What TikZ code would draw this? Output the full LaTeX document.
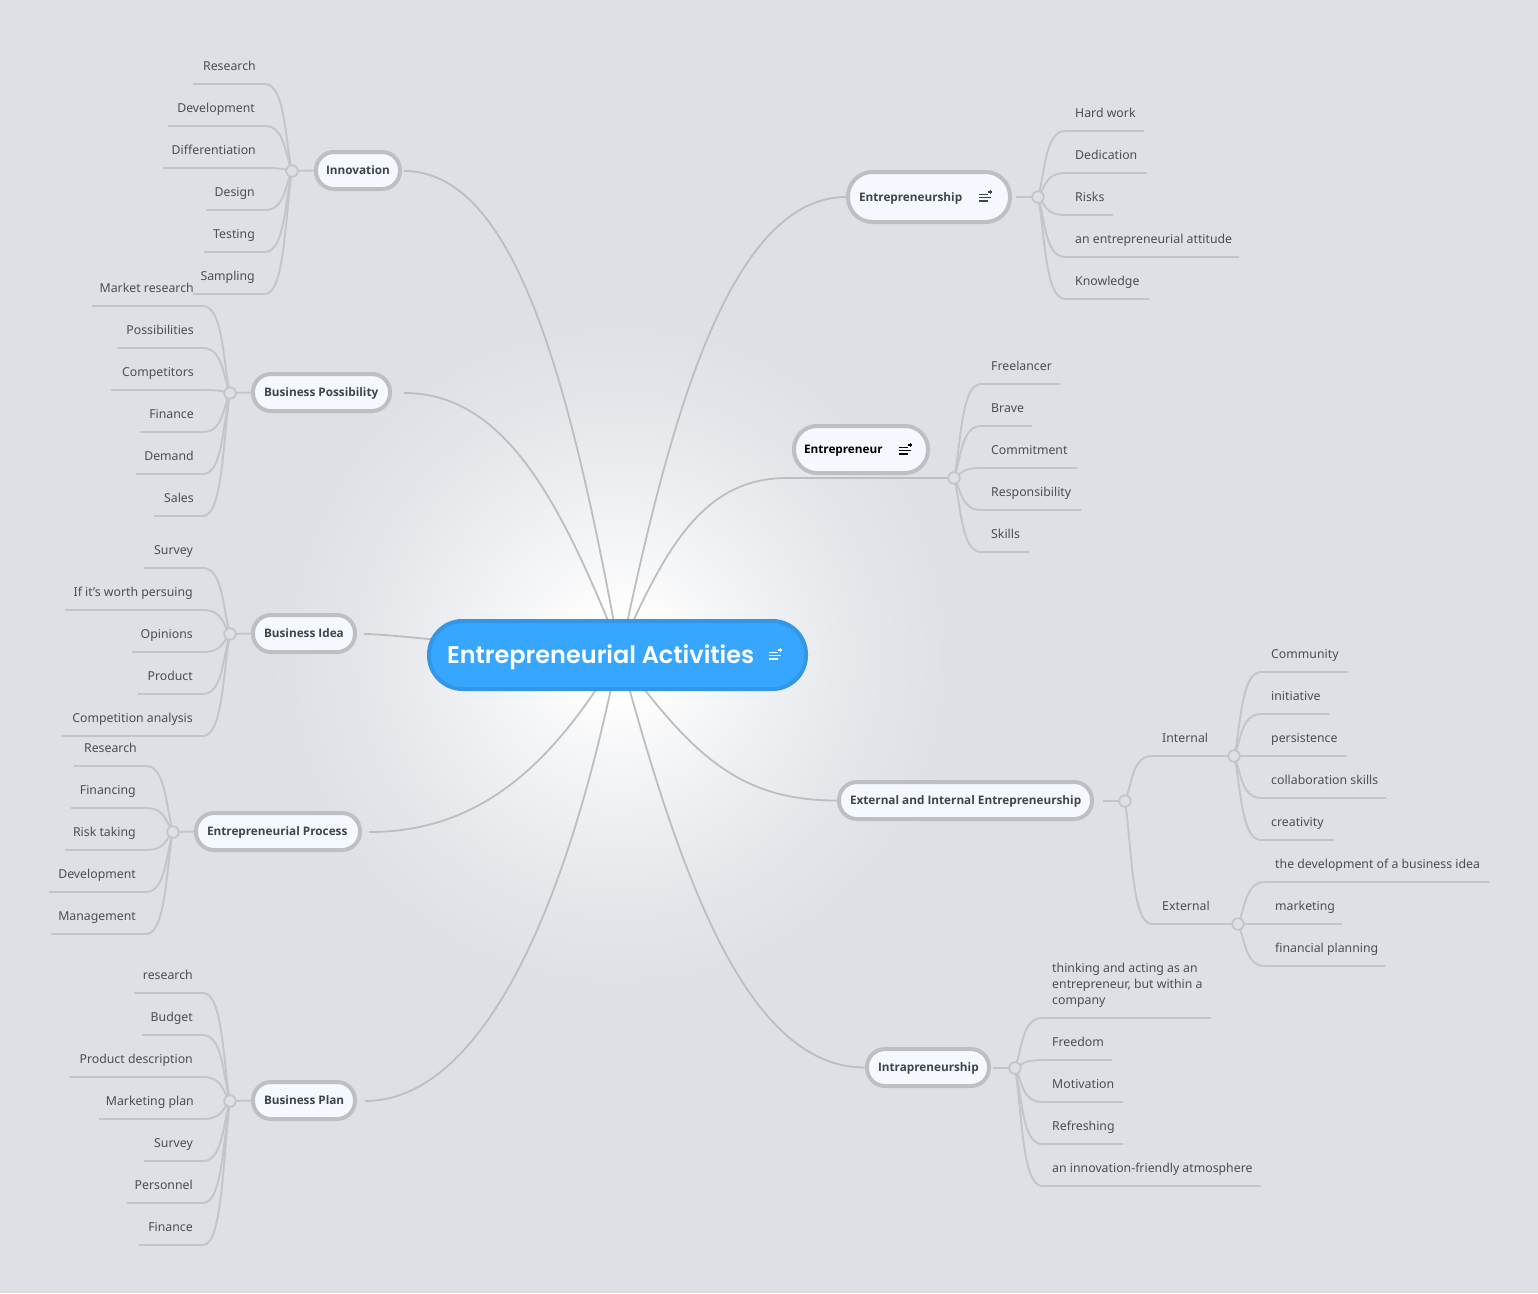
\documentclass[tikz,border=0pt]{standalone}
\usepackage{fontspec}
\setmainfont{Noto Sans}
\newfontfamily\titlefont{Poppins SemiBold}
\newfontfamily\boldfont{Open Sans}[BoldFont={Open Sans Bold}]
\definecolor{bgc}{HTML}{DDE0E5}
\definecolor{linec}{HTML}{C3C5C7}
\definecolor{edgec}{HTML}{BCBEC0}
\definecolor{txtc}{HTML}{4A4D52}
\definecolor{boldc}{HTML}{3F434A}
\definecolor{bluef}{HTML}{36A6FF}
\definecolor{blueb}{HTML}{3497E6}
\definecolor{boxf}{HTML}{F5F9FF}
\definecolor{boxb}{HTML}{BDBFC1}
\pgfdeclareradialshading{glow}{\pgfpointorigin}{
 color(0bp)=(white);
 color(3bp)=(white);
 color(5.7bp)=(white!79!bgc);
 color(11.6bp)=(white!47!bgc);
 color(17.5bp)=(white!18!bgc);
 color(22bp)=(white!4!bgc);
 color(24bp)=(bgc);
 color(50bp)=(bgc)}
\tikzset{
 x=1pt,y=-1pt,
 leaftxt/.style={inner sep=0pt,text=txtc,font=\fontsize{12.3}{16}\selectfont},
 branch/.style={draw=linec,line width=1.9pt},
 mainedge/.style={draw=edgec,line width=1.8pt},
 hubdot/.style={circle,draw=linec,fill=bgc,line width=1.8pt,minimum size=11.5pt,inner sep=0pt},
 topicbox/.style={draw=boxb,fill=boxf,line width=4pt,inner sep=0pt,anchor=center,
   text=boldc,font=\fontsize{11.75}{16}\boldfont\bfseries,text height=10pt,text depth=1.5pt},
 rootbox/.style={draw=blueb,fill=bluef,line width=4pt,inner sep=0pt,anchor=center,
   text=white,font=\fontsize{24}{28}\titlefont,text height=19pt,text depth=2pt}
}
% \tbox{style}{name}{x1}{x2}{y1}{y2}{pad}{text}
\newcommand\tbox[8]{%
 \pgfmathsetmacro\bw{#4-#3-4}\pgfmathsetmacro\bh{#6-#5-4}%
 \pgfmathsetmacro\bx{(#3+#4)/2}\pgfmathsetmacro\by{(#5+#6)/2}%
 \pgfmathsetmacro\bp{#7-2}\pgfmathsetmacro\br{(#6-#5-4)/2-0.5}%
 \node[#1,rounded corners=\br pt,minimum width=\bw pt,minimum height=\bh pt] (#2) at (\bx,\by)
  {\makebox[\bw pt][l]{\hspace{\bp pt}#8}};}
% \hub{name}{x}{y}
\newcommand\hub[3]{\coordinate (#1) at (#2,#3);\def\hx{#2}\def\hy{#3}\def\hn{#1}}
\newcounter{lf}
% \rleaf{textx}{endx}{ly}{text}
\newcommand\rleaf[4]{%
 \stepcounter{lf}%
 \pgfmathsetmacro\ca{\hx+7}\pgfmathsetmacro\cb{\hy+0.35*(#3-\hy)}%
 \pgfmathsetmacro\cc{\hx+7}\pgfmathsetmacro\cd{\hx+27}\pgfmathsetmacro\ty{#3-14}%
 \node[leaftxt,anchor=base west] (t\thelf) at (#1,\ty) {#4};
 \coordinate (e\thelf) at (#2,#3);
 \draw[branch] (\hn) .. controls (\ca,\cb) and (\cc,#3) .. (\cd,#3) -- (e\thelf);}
% \lleaf{textright}{endx}{ly}{text}
\newcommand\lleaf[4]{%
 \stepcounter{lf}%
 \pgfmathsetmacro\ca{\hx-7}\pgfmathsetmacro\cb{\hy+0.35*(#3-\hy)}%
 \pgfmathsetmacro\cc{\hx-7}\pgfmathsetmacro\cd{\hx-27}\pgfmathsetmacro\ty{#3-14}%
 \node[leaftxt,anchor=base east] (t\thelf) at (#1,\ty) {#4};
 \coordinate (e\thelf) at (#2,#3);
 \draw[branch] (\hn) .. controls (\ca,\cb) and (\cc,#3) .. (\cd,#3) -- (e\thelf);}
% \listicon{x}{y}{colour}: top-left at x,y
\newcommand\listicon[3]{%
 \begin{scope}[shift={(#1,#2)},draw=#3,line width=1.4pt]
  \draw (0,4.4) -- (9,4.4);
  \draw (0,7.6) -- (12,7.6);
  \draw (0,11) -- (9,11);
  \draw[line width=1.1pt] (9.4,2) -- (13.4,2) (11.4,0) -- (11.4,4);
 \end{scope}}
\begin{document}
\begin{tikzpicture}
\useasboundingbox (0,0) rectangle (1538,1293);
\fill[bgc] (0,0) rectangle (1538,1293);
\shade[shading=glow] (618,655) circle (370);

\coordinate (cc) at (618,655);
\coordinate (ccA) at (620,655);
\coordinate (ccB) at (622,655);
\coordinate (sInn) at (404,171);
\coordinate (sPos) at (404,393);
\coordinate (sIde) at (364,634);
\coordinate (sPro) at (369,832);
\coordinate (sPla) at (365,1101);

% hubs and leaves
\hub{hInn}{292}{171}
\lleaf{256}{193}{84}{Research}
\lleaf{255}{168}{126}{Development}
\lleaf{256}{163}{168}{Differentiation}
\lleaf{255}{206}{210}{Design}
\lleaf{255}{204}{252}{Testing}
\lleaf{255}{193}{294}{Sampling}

\hub{hPos}{230}{393}
\lleaf{194}{92}{306}{Market research}
\lleaf{194}{117}{348}{Possibilities}
\lleaf{194}{111}{390}{Competitors}
\lleaf{194}{140}{432}{Finance}
\lleaf{194}{136}{474}{Demand}
\lleaf{194}{154}{516}{Sales}

\hub{hIde}{230}{634}
\lleaf{193}{144}{568}{Survey}
\lleaf{193}{65}{610}{If it's worth persuing}
\lleaf{193}{132}{652}{Opinions}
\lleaf{193}{138}{694}{Product}
\lleaf{193}{62}{736}{Competition analysis}

\hub{hPro}{173}{832}
\lleaf{137}{74}{766}{Research}
\lleaf{136}{71}{808}{Financing}
\lleaf{136}{65}{850}{Risk taking}
\lleaf{136}{49}{892}{Development}
\lleaf{136}{51}{934}{Management}

\hub{hPla}{230}{1101}
\lleaf{193}{134}{993}{research}
\lleaf{193}{142}{1035}{Budget}
\lleaf{193}{69}{1077}{Product description}
\lleaf{194}{99}{1119}{Marketing plan}
\lleaf{193}{144}{1161}{Survey}
\lleaf{193}{127}{1203}{Personnel}
\lleaf{193}{139}{1245}{Finance}

\hub{hShip}{1038}{197}
\rleaf{1075}{1144}{131}{Hard work}
\rleaf{1075}{1147}{173}{Dedication}
\rleaf{1075}{1113}{215}{Risks}
\rleaf{1075}{1239}{257}{an entrepreneurial attitude}
\rleaf{1075}{1149}{299}{Knowledge}

\hub{hEnt}{954}{478}
\rleaf{991}{1060}{384}{Freelancer}
\rleaf{991}{1032}{426}{Brave}
\rleaf{991}{1077}{468}{Commitment}
\rleaf{991}{1081}{510}{Responsibility}
\rleaf{991}{1029}{552}{Skills}

\hub{hExt}{1125}{801}
\coordinate (eInt) at (1234,756);
\coordinate (eExt) at (1238,924);
\node[leaftxt,anchor=base west] (tInt) at (1162,742) {Internal};
\node[leaftxt,anchor=base west] (tExt) at (1162,910) {External};
\draw[branch] (hExt) .. controls (1132,785) and (1132,756) .. (1152,756) -- (eInt);
\draw[branch] (hExt) .. controls (1132,850) and (1132,924) .. (1152,924) -- (eExt);

\hub{hI}{1234}{756}
\rleaf{1271}{1348}{672}{Community}
\rleaf{1271}{1329}{714}{initiative}
\rleaf{1271}{1347}{756}{persistence}
\rleaf{1271}{1386}{798}{collaboration skills}
\rleaf{1271}{1334}{840}{creativity}

\hub{hE}{1238}{924}
\rleaf{1275}{1489}{882}{the development of a business idea}
\rleaf{1275}{1342}{924}{marketing}
\rleaf{1275}{1385}{966}{financial planning}

\hub{hIntra}{1015}{1068}
\node[leaftxt,anchor=west,align=left] (tTh) at (1052,985) {thinking and acting as an\\entrepreneur, but within a\\company};
\coordinate (eTh) at (1211,1018);
\draw[branch] (hIntra) .. controls (1022,1050) and (1022,1018) .. (1042,1018) -- (eTh);
\rleaf{1052}{1112}{1060}{Freedom}
\rleaf{1052}{1123}{1102}{Motivation}
\rleaf{1052}{1123}{1144}{Refreshing}
\rleaf{1052}{1261}{1186}{an innovation-friendly atmosphere}

% main connectors
\draw[mainedge] (sInn) .. controls (515,171) and (570,380) .. (ccA);
\draw[mainedge] (sPos) .. controls (508,393) and (563,508) .. (ccB);
\draw[mainedge] (sIde) .. controls (400,634) and (560,655) .. (cc);
\draw[mainedge] (sPro) .. controls (480,832) and (552,765) .. (cc);
\draw[mainedge] (sPla) .. controls (471,1101) and (561,940) .. (cc);

% topic boxes
\tbox{topicbox}{bInn}{314}{402}{150}{191}{12}{Innovation}
\tbox{topicbox}{bPos}{251}{392}{372}{413}{13}{Business Possibility}
\tbox{topicbox}{bIde}{251}{357}{613}{654}{13}{Business Idea}
\tbox{topicbox}{bPro}{194}{362}{811}{852}{13}{Entrepreneurial Process}
\tbox{topicbox}{bPla}{251}{357}{1080}{1121}{13}{Business Plan}
\tbox{topicbox}{bShip}{846}{1012}{170}{224}{13}{Entrepreneurship}
\tbox{topicbox,text=black}{bEnt}{792}{930}{424}{475}{12}{Entrepreneur}
\tbox{topicbox}{bExt}{837}{1094}{780}{821}{13}{External and Internal Entrepreneurship}
\tbox{topicbox}{bIntra}{865}{991}{1047}{1088}{13}{Intrapreneurship}

% right-hand main connectors and stubs
\draw[mainedge] (bShip.west) .. controls (718,197) and (660,471) .. (ccA);
\draw[mainedge] (hEnt) -- (787,478) .. controls (702,478) and (664,550) .. (cc);
\draw[mainedge] (bExt.west) .. controls (734,801) and (688,748) .. (cc);
\draw[mainedge] (bIntra.west) .. controls (746,1068) and (679,872) .. (ccA);

\coordinate (sShip) at (1016,197);
\coordinate (sExt) at (1103,801);
\coordinate (sIntra) at (993,1068);
\draw[branch] (bInn.west) -- (hInn);
\draw[branch] (bPos.west) -- (hPos);
\draw[branch] (bIde.west) -- (hIde);
\draw[branch] (bPro.west) -- (hPro);
\draw[branch] (bPla.west) -- (hPla);
\draw[branch] (sShip) -- (hShip);
\draw[branch] (sExt) -- (hExt);
\draw[branch] (sIntra) -- (hIntra);

% hub circles
\foreach \n/\px/\py in {dInn/292/171,dPos/230/393,dIde/230/634,dPro/173/832,dPla/230/1101,dShip/1038/197,dEnt/954/478,dExt/1125/801,dI/1234/756,dE/1238/924,dIntra/1015/1068}
 \node[hubdot] (\n) at (\px,\py) {};

% root
\tbox{rootbox}{root}{427}{808}{619}{691}{20}{Entrepreneurial Activities}

\listicon{979}{190}{boldc}
\listicon{899}{443}{black}
\listicon{769}{648}{white}
\end{tikzpicture}
\end{document}
